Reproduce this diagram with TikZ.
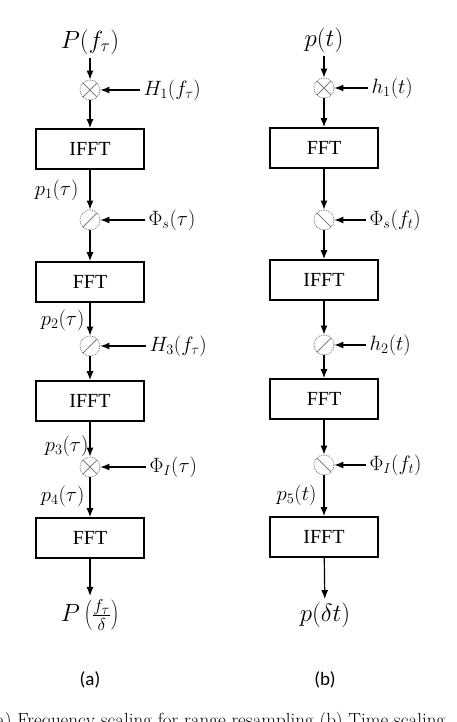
\documentclass[tikz,border=0pt]{standalone}
\usepackage{fontspec}
\usetikzlibrary{arrows.meta}
\newfontfamily\boxfont{Liberation Serif}
\newfontfamily\subfont{Carlito}

\begin{document}
\begin{tikzpicture}[x=1pt,y=-1pt,
    blk/.style={draw,line width=1.6pt,minimum width=108pt,minimum height=40pt,
        font=\boxfont\fontsize{20}{24}\selectfont},
    mix/.style={circle,draw=black!55,densely dotted,line width=0.8pt,minimum size=20pt,inner sep=0pt},
    crs/.style={mix,path picture={
        \draw[black!50,solid] (path picture bounding box.north west) -- (path picture bounding box.south east);
        \draw[black!50,solid] (path picture bounding box.south west) -- (path picture bounding box.north east);}},
    slsh/.style={mix,path picture={
        \draw[black!50,solid] (path picture bounding box.south west) -- (path picture bounding box.north east);}},
    bslsh/.style={mix,path picture={
        \draw[black!50,solid] (path picture bounding box.north west) -- (path picture bounding box.south east);}},
    sig/.style={line width=1.2pt,-{Latex[length=9pt,width=7pt]}},
    lbl/.style={font=\fontsize{21}{25}\selectfont},
    big/.style={font=\fontsize{27}{32}\selectfont}]
    \useasboundingbox (0,0) rectangle (456,722);
    \clip (0,0) rectangle (456,722);
    % (a) column
    \node[big] (Pin) at (90,42) {$P(f_\tau)$};
    \node[crs] (m1) at (90,90) {};
    \node[lbl,anchor=west] (H1) at (140,90) {$H_1(f_\tau)$};
    \node[blk] (b1) at (90,149) {IFFT};
    \node[lbl,anchor=east] (p1) at (82,190) {$p_1(\tau)$};
    \node[slsh] (m2) at (90,220) {};
    \node[lbl,anchor=west] (Phis) at (145,220) {$\Phi_s(\tau)$};
    \node[blk] (b2) at (90,282) {FFT};
    \node[lbl,anchor=east] (p2) at (88,320) {$p_2(\tau)$};
    \node[slsh] (m3) at (90,346) {};
    \node[lbl,anchor=west] (H3) at (146,346) {$H_3(f_\tau)$};
    \node[blk] (b3) at (90,401) {IFFT};
    \node[lbl,anchor=east] (p3) at (92,446) {$p_3(\tau)$};
    \node[crs] (m4) at (90,467) {};
    \node[lbl,anchor=west] (PhiI) at (146,467) {$\Phi_I(\tau)$};
    \node[lbl,anchor=east] (p4) at (88,496) {$p_4(\tau)$};
    \node[blk] (b4) at (90,538) {FFT};
    \node[big] (Pout) at (90,615) {$P\left(\frac{f_\tau}{\delta}\right)$};
    \node[font=\subfont\fontsize{19}{23}\selectfont] (a) at (90,680) {(a)};
    \draw[sig] (Pin) -- (m1);
    \draw[sig] (H1) -- (m1);
    \draw[sig] (m1) -- (b1);
    \draw[sig] (b1) -- (m2);
    \draw[sig] (Phis) -- (m2);
    \draw[sig] (m2) -- (b2);
    \draw[sig] (b2) -- (m3);
    \draw[sig] (H3) -- (m3);
    \draw[sig] (m3) -- (b3);
    \draw[sig] (b3) -- (m4);
    \draw[sig] (PhiI) -- (m4);
    \draw[sig] (m4) -- (b4);
    \draw[sig] (b4) -- (Pout);
    % (b) column
    \node[big] (pin) at (324,40) {$p(t)$};
    \node[crs] (n1) at (324,88) {};
    \node[lbl,anchor=west] (h1) at (368,88) {$h_1(t)$};
    \node[blk] (c1) at (324,148) {FFT};
    \node[bslsh] (n2) at (324,220) {};
    \node[lbl,anchor=west] (Phisf) at (366,220) {$\Phi_s(f_t)$};
    \node[blk] (c2) at (324,280) {IFFT};
    \node[slsh] (n3) at (324,345) {};
    \node[lbl,anchor=west] (h2) at (366,345) {$h_2(t)$};
    \node[blk] (c3) at (324,399) {FFT};
    \node[bslsh] (n4) at (324,465) {};
    \node[lbl,anchor=west] (PhiIf) at (366,465) {$\Phi_I(f_t)$};
    \node[lbl,anchor=east] (p5) at (320,495) {$p_5(t)$};
    \node[blk] (c4) at (324,537) {IFFT};
    \node[big] (pout) at (325,615) {$p(\delta t)$};
    \node[font=\subfont\fontsize{19}{23}\selectfont] (b) at (325,680) {(b)};
    \draw[sig] (pin) -- (n1);
    \draw[sig] (h1) -- (n1);
    \draw[sig] (n1) -- (c1);
    \draw[sig] (c1) -- (n2);
    \draw[sig] (Phisf) -- (n2);
    \draw[sig] (n2) -- (c2);
    \draw[sig] (c2) -- (n3);
    \draw[sig] (h2) -- (n3);
    \draw[sig] (n3) -- (c3);
    \draw[sig] (c3) -- (n4);
    \draw[sig] (PhiIf) -- (n4);
    \draw[sig] (n4) -- (c4);
    \draw[sig] (c4) -- (pout);
    % caption, cut by the page edge
    \node[anchor=base west,font=\fontsize{19}{23}\selectfont] (cap) at (316,726)
        {\llap{(a) Frequency scaling for range resampling }(b) Time scaling};
\end{tikzpicture}
\end{document}
